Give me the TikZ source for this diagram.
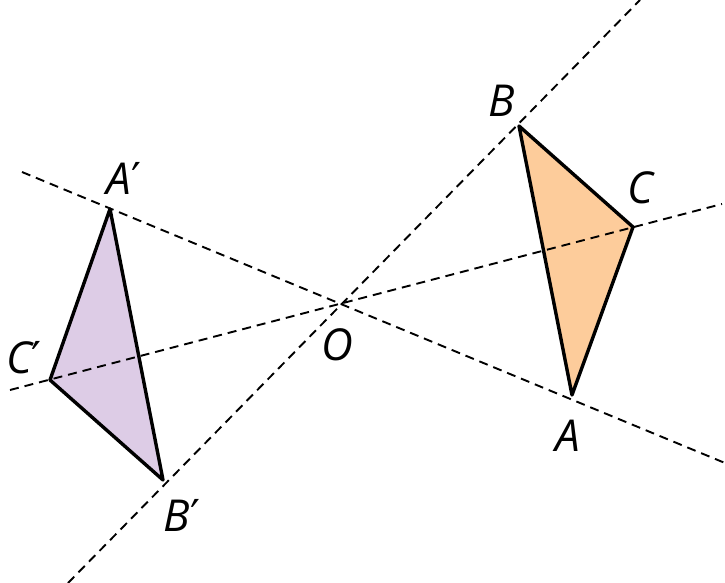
\documentclass[tikz,border=0pt]{standalone}
\usepackage{fontspec}
\setmainfont{Open Sans}
\newfontfamily\primefont{DejaVu Sans}
\newcommand{\pr}{{\primefont\upshape ′}}
\begin{document}
\begin{tikzpicture}[x=1pt,y=-1pt,
  tri/.style={line width=3.4pt,line join=round},
  ray/.style={line width=1.9pt,dash pattern=on 9pt off 6pt},
  lab/.style={font=\fontsize{44}{44}\selectfont\itshape}]
\useasboundingbox (0,0) rectangle (725,583);
\definecolor{org}{RGB}{253,204,155}
\definecolor{pur}{RGB}{221,204,230}
\coordinate (O) at (341,303);
\coordinate (A) at (572,395);
\coordinate (B) at (519,126);
\coordinate (C) at (633,227);
\coordinate (A1) at (110,209);
\coordinate (B1) at (163,480);
\coordinate (C1) at (50,380);
\coordinate (a1) at (22,172); \coordinate (a2) at (725,463);
\coordinate (b1) at (68,583); \coordinate (b2) at (640,0);
\coordinate (c1) at (10,390); \coordinate (c2) at (722,204);
\fill[org] (A)--(B)--(C)--cycle;
\fill[pur] (A1)--(B1)--(C1)--cycle;
\draw[ray] (a1)--(a2);
\draw[ray] (b1)--(b2);
\draw[ray] (c1)--(c2);
\draw[tri] (A)--(B)--(C)--cycle;
\draw[tri] (A1)--(B1)--(C1)--cycle;
\node[lab] (lA) at (568,436) {A};
\node[lab] (lB) at (502,101) {B};
\node[lab] (lC) at (640,188) {C};
\node[lab] (lA1) at (124,178) {A\pr};
\node[lab] (lB1) at (182,515) {B\pr};
\node[lab] (lC1) at (24,358) {C\pr};
\node[lab] (lO) at (337,345) {O};
\end{tikzpicture}
\end{document}
